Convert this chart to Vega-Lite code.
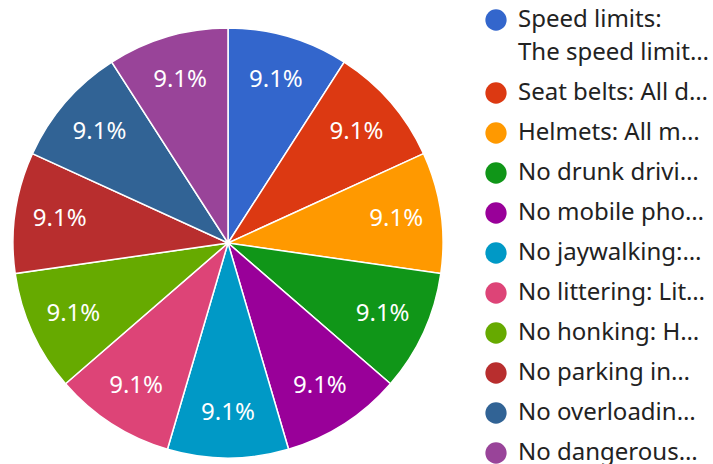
{
  "$schema": "https://vega.github.io/schema/vega-lite/v6.json",
  "width": 430,
  "height": 430,
  "padding": {"left": 10, "top": 8, "right": 0, "bottom": 0},
  "autosize": {"type": "pad"},
  "background": "white",
  "config": {
    "view": {"stroke": null},
    "font": "Noto Sans",
    "style": {"guide-label": {"lineHeight": 33}}
  },
  "data": {
    "values": [
      {"i": 1, "rule": "Speed limits:|The speed limit…", "value": 1},
      {"i": 2, "rule": "Seat belts: All d…", "value": 1},
      {"i": 3, "rule": "Helmets: All m…", "value": 1},
      {"i": 4, "rule": "No drunk drivi…", "value": 1},
      {"i": 5, "rule": "No mobile pho…", "value": 1},
      {"i": 6, "rule": "No jaywalking:…", "value": 1},
      {"i": 7, "rule": "No littering: Lit…", "value": 1},
      {"i": 8, "rule": "No honking: H…", "value": 1},
      {"i": 9, "rule": "No parking in…", "value": 1},
      {"i": 10, "rule": "No overloadin…", "value": 1},
      {"i": 11, "rule": "No dangerous…", "value": 1}
    ]
  },
  "encoding": {
    "theta": {"field": "value", "type": "quantitative", "stack": true},
    "order": {"field": "i", "type": "quantitative"}
  },
  "layer": [
    {
      "mark": {"type": "arc", "outerRadius": 215, "stroke": "white", "strokeWidth": 1.5},
      "encoding": {
        "color": {
          "field": "rule",
          "type": "nominal",
          "sort": {"field": "i"},
          "scale": {"range": ["#3366cc", "#dc3912", "#ff9900", "#109618", "#990099", "#0099c6", "#dd4477", "#66aa00", "#b82e2e", "#316395", "#994499"]},
          "legend": {
            "title": null,
            "orient": "none",
            "legendX": 471,
            "legendY": -20,
            "symbolType": "circle",
            "symbolSize": 452,
            "symbolStrokeWidth": 0,
            "labelFontSize": 24,
            "labelColor": "#222222",
            "labelLimit": 400,
            "labelOffset": 10,
            "rowPadding": 16,
            "labelExpr": "split(datum.label, '|')",
            "padding": 0,
            "encode": {"labels": {"update": {"lineHeight": {"value": 33}}}}
          }
        }
      }
    },
    {
      "mark": {"type": "text", "radius": 170, "fontSize": 24, "color": "white"},
      "encoding": {"text": {"value": "9.1%"}}
    }
  ]
}
